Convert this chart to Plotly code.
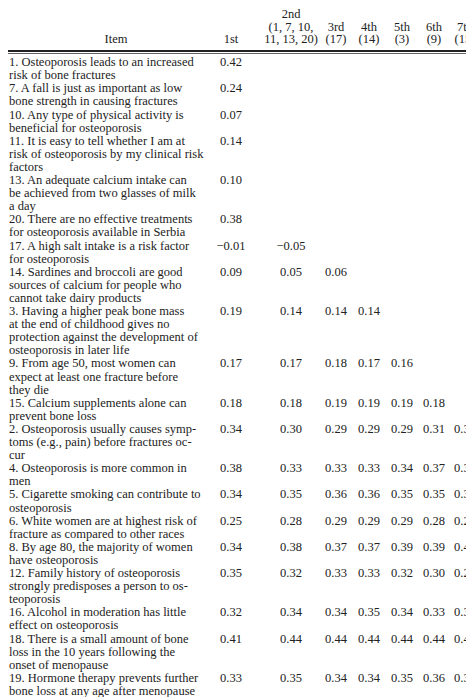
import plotly.graph_objects as go

# item text, already broken into the printed lines
items = [
    ["1. Osteoporosis leads to an increased", "risk of bone fractures"],
    ["7. A fall is just as important as low", "bone strength in causing fractures"],
    ["10. Any type of physical activity is", "beneficial for osteoporosis"],
    ["11. It is easy to tell whether I am at", "risk of osteoporosis by my clinical risk", "factors"],
    ["13. An adequate calcium intake can", "be achieved from two glasses of milk", "a day"],
    ["20. There are no effective treatments", "for osteoporosis available in Serbia"],
    ["17. A high salt intake is a risk factor", "for osteoporosis"],
    ["14. Sardines and broccoli are good", "sources of calcium for people who", "cannot take dairy products"],
    ["3. Having a higher peak bone mass", "at the end of childhood gives no",
     "protection against the development of", "osteoporosis in later life"],
    ["9. From age 50, most women can", "expect at least one fracture before", "they die"],
    ["15. Calcium supplements alone can", "prevent bone loss"],
    ["2. Osteoporosis usually causes symp-", "toms (e.g., pain) before fractures oc-", "cur"],
    ["4. Osteoporosis is more common in", "men"],
    ["5. Cigarette smoking can contribute to", "osteoporosis"],
    ["6. White women are at highest risk of", "fracture as compared to other races"],
    ["8. By age 80, the majority of women", "have osteoporosis"],
    ["12. Family history of osteoporosis", "strongly predisposes a person to os-", "teoporosis"],
    ["16. Alcohol in moderation has little", "effect on osteoporosis"],
    ["18. There is a small amount of bone", "loss in the 10 years following the", "onset of menopause"],
    ["19. Hormone therapy prevents further", "bone loss at any age after menopause"],
]

col_heads = [["1st"], ["2nd", "(1, 7, 10,", "11, 13, 20)"], ["3rd", "(17)"], ["4th", "(14)"],
             ["5th", "(3)"], ["6th", "(9)"], ["7th", "(15)"]]

values = [
    [0.42], [0.24], [0.07], [0.14], [0.10], [0.38],
    [-0.01, -0.05],
    [0.09, 0.05, 0.06],
    [0.19, 0.14, 0.14, 0.14],
    [0.17, 0.17, 0.18, 0.17, 0.16],
    [0.18, 0.18, 0.19, 0.19, 0.19, 0.18],
    [0.34, 0.30, 0.29, 0.29, 0.29, 0.31, 0.33],
    [0.38, 0.33, 0.33, 0.33, 0.34, 0.37, 0.38],
    [0.34, 0.35, 0.36, 0.36, 0.35, 0.35, 0.34],
    [0.25, 0.28, 0.29, 0.29, 0.29, 0.28, 0.27],
    [0.34, 0.38, 0.37, 0.37, 0.39, 0.39, 0.40],
    [0.35, 0.32, 0.33, 0.33, 0.32, 0.30, 0.27],
    [0.32, 0.34, 0.34, 0.35, 0.34, 0.33, 0.33],
    [0.41, 0.44, 0.44, 0.44, 0.44, 0.44, 0.42],
    [0.33, 0.35, 0.34, 0.34, 0.35, 0.36, 0.36],
]

col_x = [223, 283, 328, 361, 394, 426, 457]
top, lh = 55, 13.1
font = dict(family="Liberation Serif", size=12.5, color="#222")

ix, iy, it = [], [], []
vx, vy, vt = [], [], []
line = 0
for rows, vals in zip(items, values):
    for j, s in enumerate(rows):
        ix.append(1)
        iy.append(top + (line + j) * lh)
        it.append(s)
    for c, v in enumerate(vals):
        vx.append(col_x[c])
        vy.append(top + line * lh)
        vt.append(f"{v:.2f}".replace("-", "\u2212"))
    line += len(rows)

hx, hy, ht = [108], [32], ["Item"]
for c, h in enumerate(col_heads):
    for j, s in enumerate(h):
        hx.append(col_x[c])
        hy.append(32 - (len(h) - 1 - j) * 12.5)
        ht.append(s)

fig = go.Figure()
fig.add_trace(go.Scatter(x=ix, y=iy, text=it, mode="text", textposition="middle right",
                         textfont=font, hoverinfo="skip"))
fig.add_trace(go.Scatter(x=vx, y=vy, text=vt, mode="text", textposition="middle center",
                         textfont=font, hoverinfo="skip"))
fig.add_trace(go.Scatter(x=hx, y=hy, text=ht, mode="text", textposition="middle center",
                         textfont=font, hoverinfo="skip"))
fig.add_shape(type="line", x0=0, x1=474, y0=43, y1=43, line=dict(color="#222", width=2))
fig.add_shape(type="line", x0=0, x1=474, y0=45.5, y1=45.5, line=dict(color="#222", width=0.7))

fig.update_layout(width=474, height=697, margin=dict(l=0, r=0, t=0, b=0),
                  paper_bgcolor="white", plot_bgcolor="white", showlegend=False)
fig.update_xaxes(range=[0, 474], visible=False)
fig.update_yaxes(range=[697, 0], visible=False)
fig.write_html("out.html")
